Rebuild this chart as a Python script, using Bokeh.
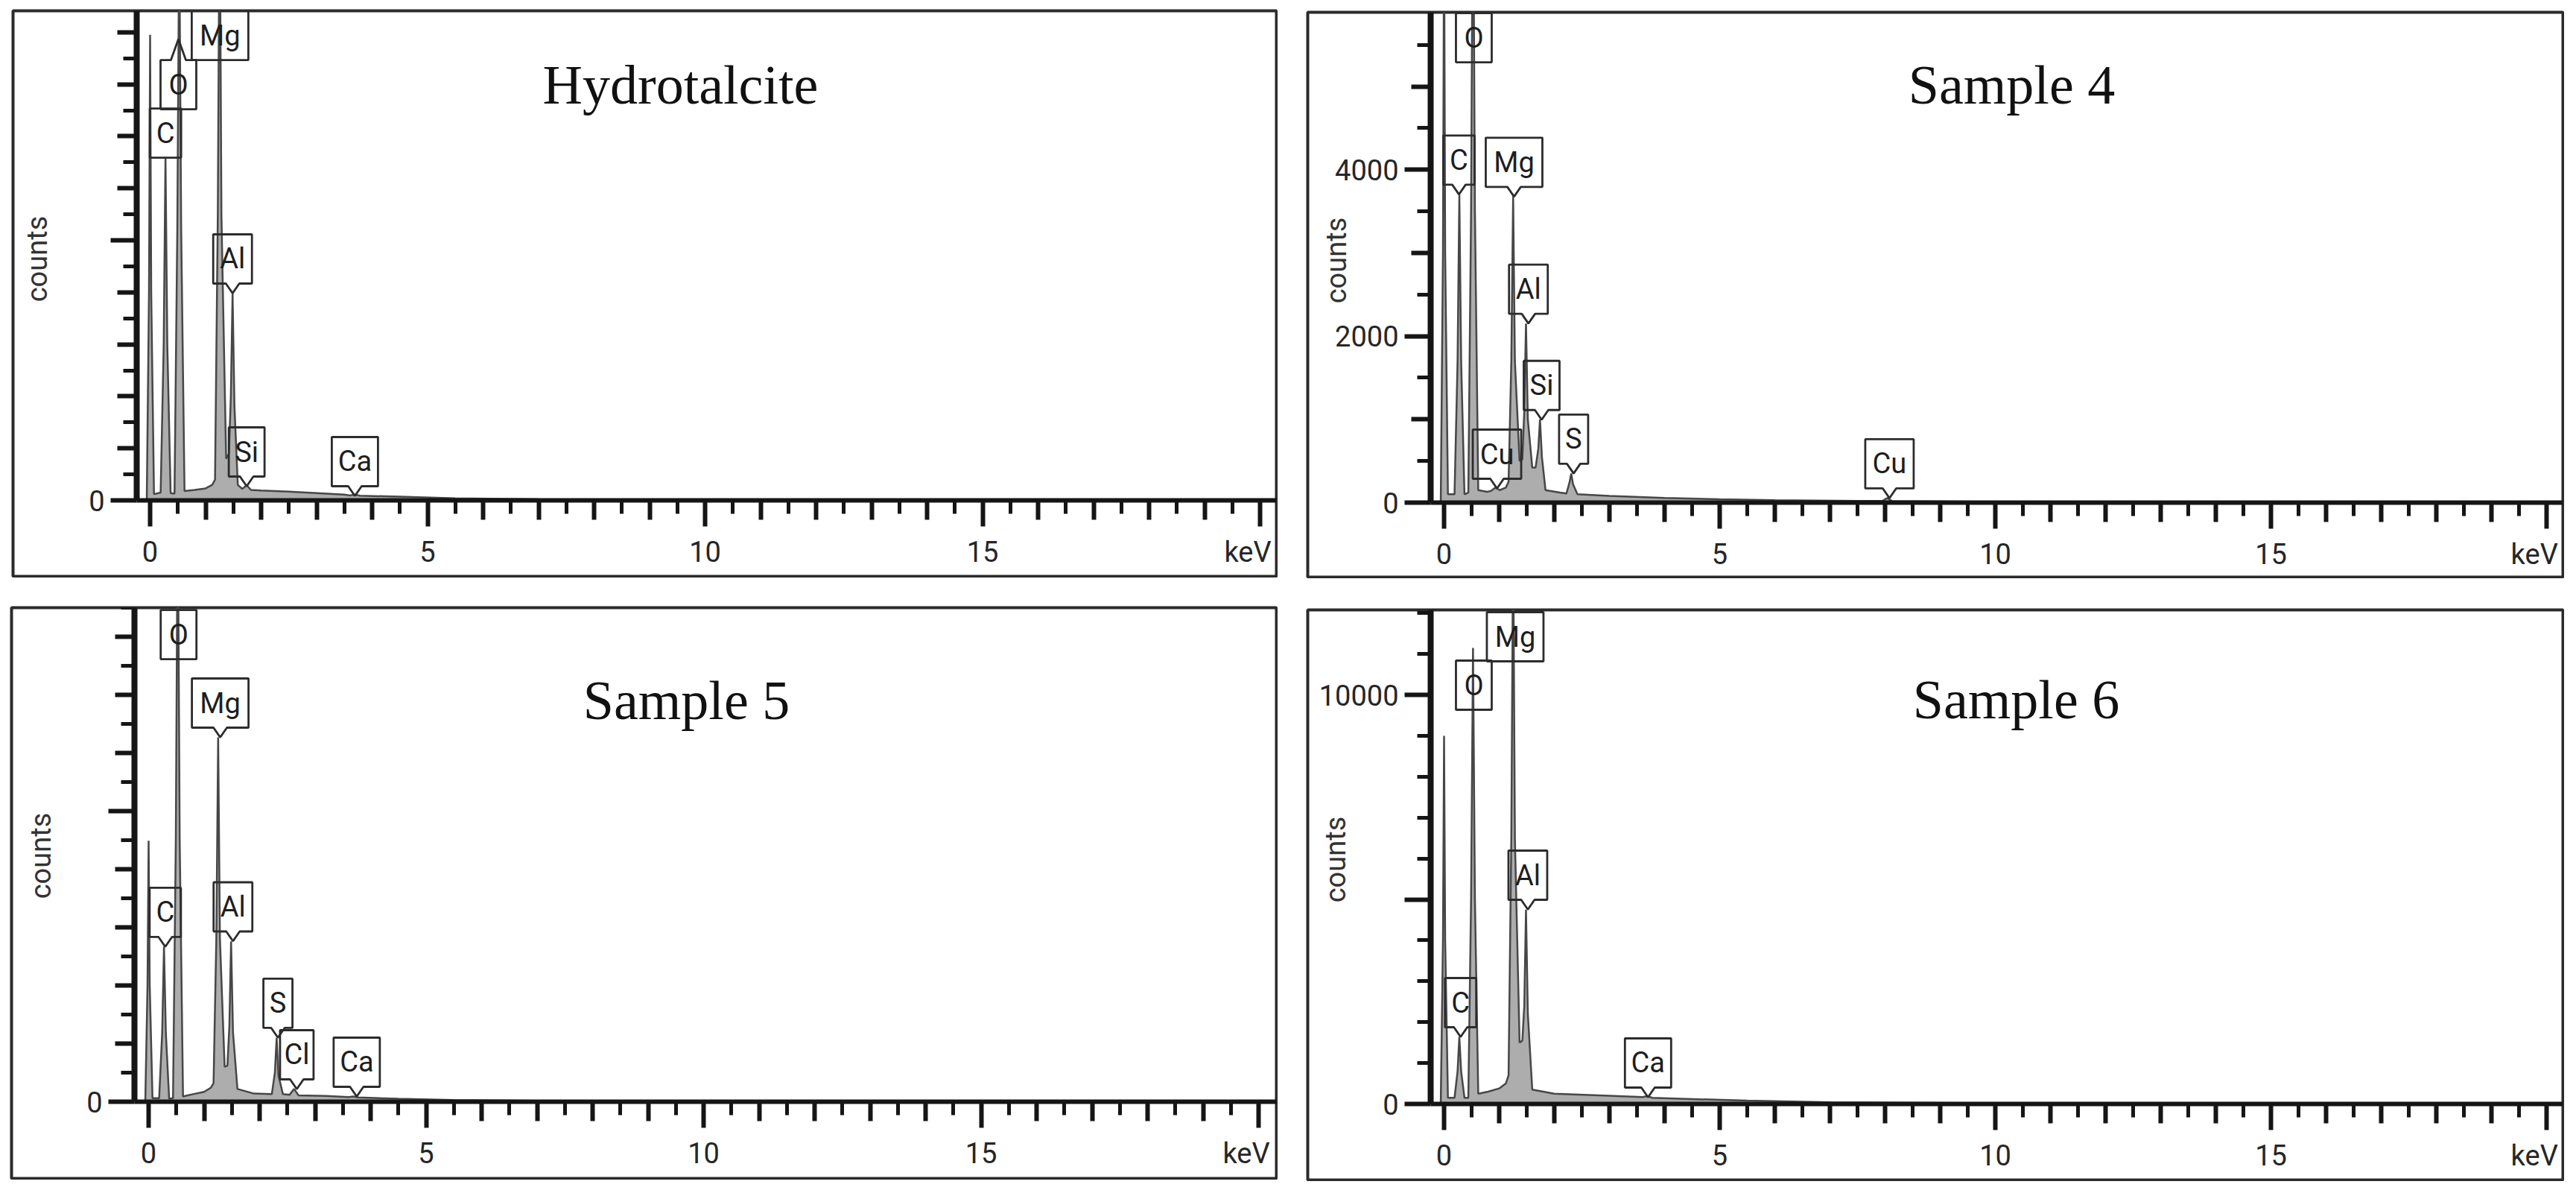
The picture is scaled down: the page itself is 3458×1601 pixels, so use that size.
import math
from bokeh.plotting import figure
from bokeh.models import FixedTicker, LinearAxis, Label, Range1d
from bokeh.layouts import row, column
from bokeh.embed import file_html
from bokeh.resources import INLINE
from bokeh.core.properties import value

# ---------------- data ----------------
kev_label_ticks = [0, 5, 10, 15, 19.78]
kev_label_text = ["0", "5", "10", "15", "keV"]
kev_major_ticks = [0, 5, 10, 15, 20]
kev_medium_ticks = [k for k in range(1, 20) if k % 5]
kev_minor_ticks = [k + 0.5 for k in range(20)]

titles = ["Hydrotalcite", "Sample 4", "Sample 5", "Sample 6"]

# Hydrotalcite spectrum (keV, counts)
hyd_kev = [-0.24, -0.06, -0.02, 0.00, 0.02, 0.07, 0.19, 0.245, 0.277, 0.31, 0.37,
           0.44, 0.49, 0.525, 0.56, 0.62, 0.80, 1.00, 1.12, 1.17, 1.22, 1.253, 1.285, 1.37,
           1.42, 1.455, 1.486, 1.52, 1.58, 1.66, 1.74, 1.82, 2.0, 2.5, 3.0, 3.5,
           3.6, 3.69, 3.78, 4.5, 5.5, 7.0, 9.0, 12.0, 20.3]
hyd_cnt = [0, 0, 4000, 8950, 4000, 120, 150, 3000, 6600, 3000, 140,
           130, 5200, 11000, 5200, 180, 200, 230, 300, 400, 5500, 12000, 5500, 800,
           900, 2000, 3980, 1800, 300, 220, 290, 200, 190, 170, 140, 110,
           95, 110, 90, 70, 40, 20, 10, 5, 0]
hyd_lbl = ["C", "O", "Mg", "Al", "Si", "Ca"]
hyd_lbl_kev = [0.277, 0.51, 1.26, 1.486, 1.74, 3.69]
hyd_lbl_cnt = [6590, 7521, 8467, 3983, 272, 86]
hyd_lbl_ptr = ["none", "up", "none", "down", "down", "down"]

# Sample 4
s4_kev = [-0.24, -0.06, -0.02, 0.00, 0.02, 0.07, 0.19, 0.245, 0.277, 0.31, 0.37,
          0.44, 0.49, 0.525, 0.56, 0.62, 0.78, 0.85, 0.93, 1.01, 1.12,
          1.17, 1.22, 1.253, 1.285, 1.37, 1.42, 1.455, 1.486, 1.52, 1.6,
          1.66, 1.71, 1.74, 1.775, 1.84, 2.1, 2.22, 2.275, 2.307, 2.34, 2.42,
          3.0, 4.0, 5.0, 6.0, 7.5, 7.95, 8.04, 8.13, 10.0, 14.0, 20.3]
s4_cnt = [0, 0, 3000, 7000, 3000, 100, 100, 1700, 3700, 1700, 100,
          120, 3500, 8000, 3500, 150, 130, 140, 180, 150, 180,
          250, 1700, 3680, 1700, 500, 520, 1100, 2150, 1000, 420,
          420, 650, 1000, 550, 150, 120, 110, 240, 350, 220, 100,
          80, 55, 40, 30, 20, 20, 55, 18, 10, 5, 0]
s4_lbl = ["O", "C", "Mg", "Al", "Si", "S", "Cu", "Cu"]
s4_lbl_kev = [0.54, 0.27, 1.27, 1.53, 1.77, 2.35, 0.96, 8.08]
s4_lbl_cnt = [5291, 3704, 3677, 2152, 996, 350, 170, 54]
s4_lbl_ptr = ["none", "down", "down", "down", "down", "down", "down", "down"]

# Sample 5
s5_kev = [-0.24, -0.06, -0.02, 0.00, 0.02, 0.07, 0.19, 0.245, 0.277, 0.31, 0.37,
          0.44, 0.49, 0.525, 0.56, 0.62, 0.80, 1.00, 1.12, 1.17, 1.22, 1.253, 1.285, 1.37,
          1.42, 1.455, 1.486, 1.52, 1.6, 1.9, 2.22, 2.275, 2.307, 2.34, 2.42,
          2.54, 2.622, 2.70, 3.2, 3.6, 3.69, 3.78, 4.5, 5.5, 7.0, 10.0, 20.3]
s5_cnt = [0, 0, 2000, 4490, 2000, 60, 60, 1200, 2670, 1200, 50,
          60, 4500, 10500, 4500, 90, 130, 170, 240, 320, 2800, 6270, 2800, 600,
          620, 1300, 2760, 1200, 220, 140, 130, 500, 1100, 450, 130,
          120, 220, 110, 100, 80, 90, 75, 50, 30, 15, 8, 0]
s5_lbl = ["O", "Mg", "C", "Al", "S", "Cl", "Ca"]
s5_lbl_kev = [0.54, 1.29, 0.30, 1.52, 2.33, 2.67, 3.75]
s5_lbl_cnt = [7615, 6269, 2667, 2763, 1103, 218, 90]
s5_lbl_ptr = ["none", "down", "down", "down", "down", "down", "down"]

# Sample 6
s6_kev = [-0.24, -0.06, -0.02, 0.00, 0.02, 0.07, 0.19, 0.245, 0.277, 0.31, 0.37,
          0.44, 0.49, 0.525, 0.56, 0.62, 0.80, 1.00, 1.12, 1.17, 1.22, 1.253, 1.285, 1.37,
          1.42, 1.455, 1.486, 1.52, 1.6, 2.0, 3.0, 3.6, 3.69, 3.78, 4.5, 5.5, 7.0, 10.0, 20.3]
s6_cnt = [0, 0, 4000, 9000, 4000, 150, 150, 800, 1640, 800, 150,
          150, 5000, 11150, 5000, 250, 300, 380, 500, 700, 6500, 14000, 6500, 1500,
          1550, 2400, 4750, 2200, 350, 250, 200, 170, 190, 150, 120, 80, 40, 20, 0]
s6_lbl = ["Mg", "O", "C", "Al", "Ca"]
s6_lbl_kev = [1.29, 0.54, 0.30, 1.52, 3.70]
s6_lbl_cnt = [10820, 9636, 1639, 4754, 164]
s6_lbl_ptr = ["none", "none", "down", "down", "down"]

# y axis scales (counts at the top of each panel, major ticks, unlabeled majors)
hyd_y_top, s4_y_top, s5_y_top, s6_y_top = 9413, 5892, 8500, 12077
hyd_y_major, hyd_y_hidden = [0, 5000], [5000]
s4_y_major, s4_y_hidden = [0, 2000, 4000], []
s5_y_major, s5_y_hidden = [0, 5000], [5000]
s6_y_major, s6_y_hidden = [0, 5000, 10000], [5000]

# ---------------- layout (page pixels) ----------------
GEOMS = [
    dict(box=(17, 14, 1713, 773), yaxis=183, x0=201, ppx=74.5, y0=671,
         title_at=(913, 113), counts_at=(49, 347), margin=(12, 0, 0, 15)),
    dict(box=(1755, 16, 3440, 774), yaxis=1920, x0=1938, ppx=74.0, y0=674,
         title_at=(2700, 113), counts_at=(1793, 349), margin=(14, 0, 0, 38)),
    dict(box=(15, 815, 1713, 1581), yaxis=180, x0=199, ppx=74.5, y0=1478,
         title_at=(921, 939), counts_at=(54, 1148), margin=(37, 0, 0, 13)),
    dict(box=(1755, 818, 3440, 1583), yaxis=1920, x0=1938, ppx=74.0, y0=1481,
         title_at=(2706, 938), counts_at=(1792, 1153), margin=(40, 0, 0, 38)),
]

# ---------------- style ----------------
SANS = "Roboto"
SERIF = "Liberation Serif"
INK = "#151515"
BOX_INK = "#2b2b2b"
FS = 38
BOX_W = {"C": 42, "O": 48, "Mg": 76, "Al": 52, "Si": 48, "S": 39, "Cl": 45, "Ca": 62, "Cu": 65}
BOX_H, TIP_D, TIP_W, UP_D, UP_W = 66, 13, 9, 28, 10


def tick_layer(ticks, minor, length, minor_length, loc):
    return LinearAxis(ticker=FixedTicker(ticks=ticks, minor_ticks=minor), fixed_location=loc,
                      major_tick_out=0, major_tick_in=-length, major_tick_line_width=6,
                      major_tick_line_color=INK,
                      minor_tick_out=0, minor_tick_in=-minor_length, minor_tick_line_width=5,
                      minor_tick_line_color=INK if minor else None,
                      axis_line_color=None, major_label_standoff=0,
                      major_label_text_font_size="0px",
                      major_label_overrides={t: "" for t in ticks})


def build(g, title, kev, cnt, lbl, lbl_kev, lbl_cnt, lbl_ptr, y_top, y_major, y_hidden,
          y_minor_step, y_medium_step):
    bx0, by0, bx1, by1 = g["box"]
    x0, y0, ppx = g["x0"], g["y0"], g["ppx"]
    ppy = (y0 - by0) / y_top
    cw, ch = bx1 - bx0 + 4, by1 - by0 + 4
    x_lo, x_hi = (bx0 - x0) / ppx, (bx1 - x0) / ppx
    y_lo = -(by1 - y0) / ppy
    kev_axis = (g["yaxis"] - x0) / ppx

    p = figure(width=cw, height=ch, x_range=Range1d(x_lo, x_hi), y_range=Range1d(y_lo, y_top),
               output_backend="svg", toolbar_location=None, x_axis_type=None, y_axis_type=None,
               min_border_left=2, min_border_right=2, min_border_top=2, min_border_bottom=2,
               margin=g["margin"])
    p.outline_line_color = BOX_INK
    p.outline_line_width = 4
    p.background_fill_color = "white"
    p.border_fill_color = "white"

    # spectrum
    p.varea(x=kev, y1=0, y2=cnt, fill_color="#adadad")
    p.line(x=kev, y=cnt, line_color="#474747", line_width=2.5)

    # x axis (drawn at counts = 0)
    xa = LinearAxis(ticker=FixedTicker(ticks=kev_label_ticks, minor_ticks=[]), fixed_location=0,
                    bounds=(kev_axis, x_hi),
                    major_label_overrides=dict(zip(kev_label_ticks, kev_label_text)),
                    major_tick_out=0, major_tick_in=0, major_tick_line_color=None,
                    minor_tick_line_color=None,
                    axis_line_width=6, axis_line_color=INK,
                    major_label_standoff=47, major_label_text_font=SANS,
                    major_label_text_font_size=f"{FS}px", major_label_text_color="#262626")
    p.add_layout(xa, "below")
    p.add_layout(tick_layer(kev_major_ticks, kev_minor_ticks, 35, 18, 0), "below")
    p.add_layout(tick_layer(kev_medium_ticks, [], 26, 0, 0), "below")

    # y axis (drawn at its keV position left of 0)
    n = int(y_top // y_minor_step)
    steps = [i * y_minor_step for i in range(n + 1)]
    if y_medium_step:
        y_medium = [v for v in steps if v % y_medium_step == 0 and v not in y_major]
        y_minor = [v for v in steps if v % y_medium_step != 0]
    else:
        y_medium = []
        y_minor = [v for v in steps if v not in y_major]
    ya = LinearAxis(ticker=FixedTicker(ticks=y_major, minor_ticks=y_minor), fixed_location=kev_axis,
                    bounds=(0, y_top),
                    major_label_overrides={v: "" for v in y_hidden},
                    major_tick_out=35, major_tick_in=0, minor_tick_out=18, minor_tick_in=0,
                    axis_line_width=8, axis_line_color=INK,
                    major_tick_line_width=6, major_tick_line_color=INK,
                    minor_tick_line_width=5, minor_tick_line_color=INK,
                    major_label_standoff=8, major_label_text_font=SANS,
                    major_label_text_font_size=f"{FS}px", major_label_text_color="#262626")
    p.add_layout(ya, "left")
    if y_medium:
        p.add_layout(tick_layer(y_medium, [], 26, 0, kev_axis), "left")

    # element tags
    xs, ys, tx, ty = [], [], [], []
    for el, k, lvl, ptr in zip(lbl, lbl_kev, lbl_cnt, lbl_ptr):
        w = BOX_W[el] / 2 / ppx
        if ptr == "down":
            bot = lvl + TIP_D / ppy
            top = bot + BOX_H / ppy
            px = [k, k + TIP_W / ppx, k + w, k + w, k - w, k - w, k - TIP_W / ppx]
            py = [lvl, bot, bot, top, top, bot, bot]
        elif ptr == "up":
            bot = lvl
            top = bot + BOX_H / ppy
            apex = top + UP_D / ppy
            px = [k - w, k + w, k + w, k + UP_W / ppx, k, k - UP_W / ppx, k - w]
            py = [bot, bot, top, top, apex, top, top]
        else:
            bot = lvl
            top = bot + BOX_H / ppy
            px = [k - w, k + w, k + w, k - w]
            py = [bot, bot, top, top]
        xs.append(px)
        ys.append(py)
        tx.append(k)
        ty.append((bot + top) / 2)
    p.patches(xs, ys, fill_color="white", fill_alpha=0.0, line_color="#2c2c2c", line_width=2.8)
    p.text(tx, ty, text=lbl, text_font=value(SANS), text_font_size=f"{FS}px", text_align="center",
           text_baseline="middle", text_color="#1e1e1e")

    # axis title and panel title
    cx, cy = g["counts_at"]
    p.add_layout(Label(x=(cx - x0) / ppx, y=(y0 - cy) / ppy, text="counts", angle=math.pi / 2,
                       text_align="center", text_baseline="middle", text_font=SANS,
                       text_font_size=f"{FS}px", text_color="#333333"))
    tx_, ty_ = g["title_at"]
    p.add_layout(Label(x=(tx_ - x0) / ppx, y=(y0 - ty_) / ppy, text=title,
                       text_align="center", text_baseline="middle", text_font=SERIF,
                       text_font_size="74px", text_color="#111111"))
    return p


tl = build(GEOMS[0], titles[0], hyd_kev, hyd_cnt, hyd_lbl, hyd_lbl_kev, hyd_lbl_cnt, hyd_lbl_ptr,
           hyd_y_top, hyd_y_major, hyd_y_hidden, 500, 1000)
tr = build(GEOMS[1], titles[1], s4_kev, s4_cnt, s4_lbl, s4_lbl_kev, s4_lbl_cnt, s4_lbl_ptr,
           s4_y_top, s4_y_major, s4_y_hidden, 500, 1000)
bl = build(GEOMS[2], titles[2], s5_kev, s5_cnt, s5_lbl, s5_lbl_kev, s5_lbl_cnt, s5_lbl_ptr,
           s5_y_top, s5_y_major, s5_y_hidden, 500, 1000)
br = build(GEOMS[3], titles[3], s6_kev, s6_cnt, s6_lbl, s6_lbl_kev, s6_lbl_cnt, s6_lbl_ptr,
           s6_y_top, s6_y_major, s6_y_hidden, 1000, None)

layout = column(row(tl, tr), row(bl, br))

open("out.html", "w").write(file_html(layout, INLINE))
